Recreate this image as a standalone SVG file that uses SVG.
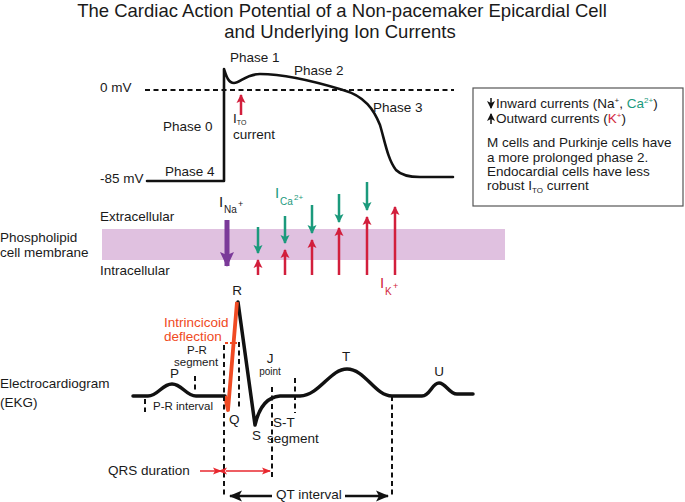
<svg xmlns="http://www.w3.org/2000/svg" width="685" height="502" viewBox="0 0 685 502">
<style>
text{font-family:"Liberation Sans",Arial,Helvetica,sans-serif;font-size:13.5px;fill:#1a1a1a}
.title{font-size:18.5px;text-anchor:middle}
.sm{font-size:11.5px}
.xs{font-size:10px}
.f15{font-size:15px}
.f9{font-size:9px}
.f8{font-size:8px}
.grn{fill:#1b9a7c}
.red{fill:#d21f3c}
.org{fill:#f04a23}
.ln{fill:none;stroke:#111;stroke-linejoin:round;stroke-linecap:round}
.dash{fill:none;stroke:#111;stroke-width:2;stroke-dasharray:5 3.5}
.ga{stroke:#1b9a7c;stroke-width:2.5;fill:none}
.ra{stroke:#d21f3c;stroke-width:2.5;fill:none}
</style>
<defs>
<marker id="hg" markerUnits="userSpaceOnUse" markerWidth="10" markerHeight="10" refX="8" refY="5" orient="auto"><path d="M0,0.5 L9,5 L0,9.5 L2,5 z" fill="#1b9a7c"/></marker>
<marker id="hr" markerUnits="userSpaceOnUse" markerWidth="10" markerHeight="10" refX="8" refY="5" orient="auto"><path d="M0,0.5 L9,5 L0,9.5 L2,5 z" fill="#d21f3c"/></marker>
<marker id="hp" markerUnits="userSpaceOnUse" markerWidth="16" markerHeight="14" refX="14" refY="7" orient="auto"><path d="M0,0 L15,7 L0,14 L3,7 z" fill="#7b3a99"/></marker>
<marker id="hk" markerUnits="userSpaceOnUse" markerWidth="14" markerHeight="12" refX="12" refY="6" orient="auto"><path d="M0,0.5 L13,6 L0,11.5 L3,6 z" fill="#111"/></marker>
<marker id="hks" markerUnits="userSpaceOnUse" markerWidth="8" markerHeight="8" refX="7" refY="4" orient="auto"><path d="M0,0 L8,4 L0,8 L2,4 z" fill="#111"/></marker>
<marker id="hrs" markerUnits="userSpaceOnUse" markerWidth="9" markerHeight="8" refX="8" refY="4" orient="auto"><path d="M0,0.5 L9,4 L0,7.5 L2,4 z" fill="#e8282f"/></marker>
<marker id="hrs0" markerUnits="userSpaceOnUse" markerWidth="9" markerHeight="8" refX="1" refY="4" orient="auto-start-reverse"><path d="M0,0.5 L9,4 L0,7.5 L2,4 z" fill="#e8282f"/></marker>
</defs>

<g id="title">
<text class="title" x="342" y="17">The Cardiac Action Potential of a Non-pacemaker Epicardial Cell</text>
<text class="title" x="340" y="38">and Underlying Ion Currents</text>
</g>

<g id="action-potential">
<line class="dash" x1="145" y1="90" x2="454" y2="90"/>
<path class="ln" stroke-width="2.6" d="M147,181 L224,181 L224,69 C226,75 228,83 234,83 C240,83 246,74 260,74 C285,74 320,83 343,90 C365,96 374,110 380,125 C385,142 388,160 396,170 C402,176 410,177 420,177 L453,177"/>
<text x="100" y="92">0 mV</text>
<text x="100" y="183">-85 mV</text>
<text x="230" y="62">Phase 1</text>
<text x="294" y="75">Phase 2</text>
<text x="373" y="112">Phase 3</text>
<text x="163" y="131">Phase 0</text>
<text x="165" y="176">Phase 4</text>
</g>

<g id="ito">
<line class="ra" x1="241" y1="115" x2="241" y2="95" marker-end="url(#hr)"/>
<text x="233" y="123">I<tspan font-size="7" dy="2">TO</tspan></text>
<text x="233" y="139">current</text>
</g>

<g id="legend">
<rect x="473" y="88" width="210" height="118" fill="#fff" stroke="#555" stroke-width="1.2"/>
<line x1="491" y1="98" x2="491" y2="108" stroke="#111" stroke-width="1.5" marker-end="url(#hks)"/>
<line x1="491" y1="124" x2="491" y2="114" stroke="#111" stroke-width="1.5" marker-end="url(#hks)"/>
<text x="496" y="108">Inward currents (Na<tspan font-size="8" dy="-5">+</tspan><tspan dy="5">, </tspan><tspan class="grn">Ca<tspan font-size="8" dy="-5">2+</tspan></tspan><tspan dy="5">)</tspan></text>
<text x="496" y="123">Outward  currents (<tspan class="red">K<tspan font-size="8" dy="-5">+</tspan></tspan><tspan dy="5">)</tspan></text>
<text x="487" y="147">M cells and Purkinje cells have</text>
<text x="487" y="162">a more prolonged phase 2.</text>
<text x="487" y="176">Endocardial cells have less</text>
<text x="487" y="190">robust I<tspan font-size="8" dy="3">TO</tspan><tspan dy="-3"> current</tspan></text>
</g>

<g id="membrane">
<rect x="102" y="229" width="403" height="31" fill="#e0c1e0"/>
<text x="0" y="242">Phospholipid</text>
<text x="0" y="257">cell membrane</text>
<text x="100" y="221">Extracellular</text>
<text x="100" y="275">Intracellular</text>
</g>

<g id="ion-currents">
<line x1="227" y1="220" x2="227" y2="266" stroke="#7b3a99" stroke-width="5" marker-end="url(#hp)"/>
<text x="219" y="207" class="f15">I</text>
<text x="224" y="213" class="xs">Na</text>
<text x="238" y="207" class="f9">+</text>
<text x="275" y="198" class="grn f15">I</text>
<text x="280" y="205" class="xs grn">Ca</text>
<text x="294" y="200" class="grn f8">2+</text>
<text x="380" y="288" class="red f15">I</text>
<text x="385" y="295" class="xs red">K</text>
<text x="393" y="289" class="red f9">+</text>
<line class="ga" x1="258" y1="227" x2="258" y2="253" marker-end="url(#hg)"/>
<line class="ga" x1="285" y1="216" x2="285" y2="243" marker-end="url(#hg)"/>
<line class="ga" x1="312" y1="205" x2="312" y2="233" marker-end="url(#hg)"/>
<line class="ga" x1="339" y1="194" x2="339" y2="222" marker-end="url(#hg)"/>
<line class="ga" x1="367" y1="182" x2="367" y2="210" marker-end="url(#hg)"/>
<line class="ra" x1="258" y1="275" x2="258" y2="260" marker-end="url(#hr)"/>
<line class="ra" x1="285" y1="275" x2="285" y2="250" marker-end="url(#hr)"/>
<line class="ra" x1="312" y1="275" x2="312" y2="240" marker-end="url(#hr)"/>
<line class="ra" x1="339" y1="275" x2="339" y2="228" marker-end="url(#hr)"/>
<line class="ra" x1="367" y1="275" x2="367" y2="217" marker-end="url(#hr)"/>
<line class="ra" x1="395" y1="275" x2="395" y2="207" marker-end="url(#hr)"/>
</g>

<g id="ekg">
<text x="0" y="388">Electrocardiogram</text>
<text x="0" y="407">(EKG)</text>
<path class="ln" stroke-width="3.5" d="M133,396 L148,396 C158,396 162,384 172,384 C182,384 186,396 196,396 L225,396"/>
<path class="ln" stroke-width="3.5" d="M238,302 L255,425 C258,412 265,397 280,396 L300,396 C320,395 330,369 347,369 C365,369 375,396 392,396 L422,396 C430,396 432,383 439,383 C446,383 449,394 457,394 L473,394"/>
<path fill="none" stroke="#f04a23" stroke-width="3.8" stroke-linejoin="round" d="M225,396 L228,410 L237,302"/>
<line x1="225" y1="343" x2="237" y2="343" stroke="#f04a23" stroke-width="2" stroke-dasharray="3 2"/>
</g>

<g id="ekg-markers">
<line class="dash" x1="145" y1="399" x2="145" y2="412"/>
<line class="dash" x1="195" y1="376" x2="195" y2="392"/>
<line class="dash" x1="224" y1="345" x2="224" y2="498"/>
<line class="dash" x1="239" y1="342" x2="239" y2="410" stroke-width="1.5"/>
<line class="dash" x1="272" y1="387" x2="272" y2="480"/>
<line class="dash" x1="295" y1="378" x2="295" y2="413"/>
<line class="dash" x1="392" y1="396" x2="392" y2="498"/>
</g>

<g id="ekg-labels">
<text x="237" y="295" text-anchor="middle">R</text>
<text x="164" y="327" class="org">Intrincicoid</text>
<text x="164" y="341" class="org">deflection</text>
<text x="187" y="354" class="sm">P-R</text>
<text x="174" y="366" class="sm">segment</text>
<text x="170" y="378">P</text>
<text x="270" y="363" text-anchor="middle">J</text>
<text x="270" y="375" class="xs" text-anchor="middle">point</text>
<text x="346" y="361" text-anchor="middle">T</text>
<text x="439" y="376" text-anchor="middle">U</text>
<text x="153" y="410" class="sm">P-R interval</text>
<text x="229" y="424">Q</text>
<text x="252" y="440">S</text>
<text x="273" y="427">S-T</text>
<text x="267" y="443">segment</text>
</g>

<g id="intervals">
<text x="108" y="475">QRS duration</text>
<line x1="200" y1="471" x2="221" y2="471" stroke="#e8282f" stroke-width="1.5" marker-end="url(#hrs)"/>
<line x1="226" y1="471" x2="270" y2="471" stroke="#e8282f" stroke-width="1.5" marker-start="url(#hrs0)" marker-end="url(#hrs)"/>
<line x1="272" y1="496" x2="230" y2="496" stroke="#111" stroke-width="2.5" marker-end="url(#hk)"/>
<line x1="345" y1="496" x2="388" y2="496" stroke="#111" stroke-width="2.5" marker-end="url(#hk)"/>
<text x="276" y="499">QT interval</text>
</g>
</svg>
